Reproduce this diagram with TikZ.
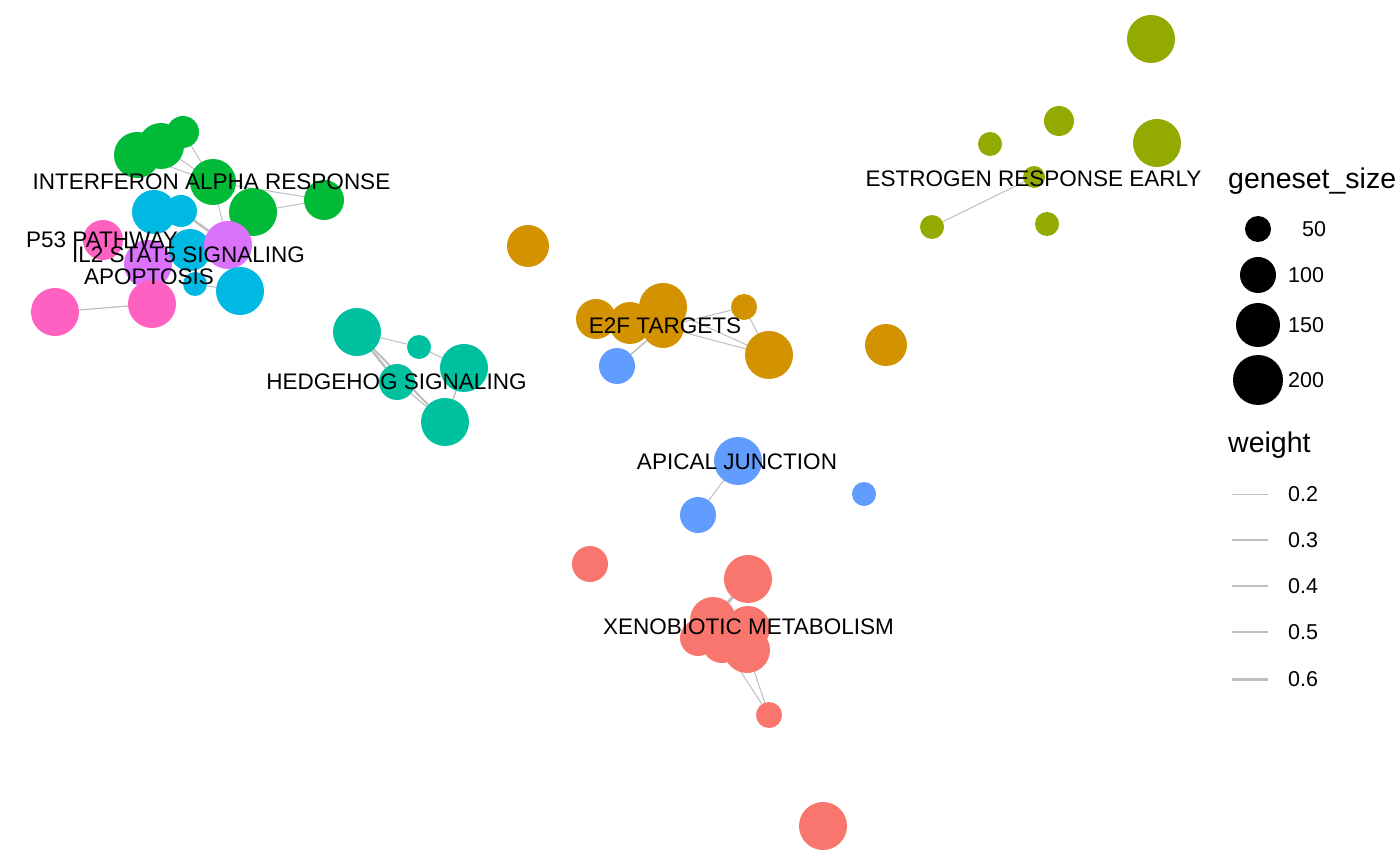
\documentclass[tikz,border=0pt]{standalone}
\usepackage{fontspec}
\setmainfont{Liberation Sans}
\pgfdeclarelayer{edges}
\pgfsetlayers{edges,main}
\definecolor{cred}{HTML}{F8766D}
\definecolor{corange}{HTML}{D39200}
\definecolor{colive}{HTML}{93AA00}
\definecolor{cgreen}{HTML}{00BA38}
\definecolor{cteal}{HTML}{00C19F}
\definecolor{ccyan}{HTML}{00B9E3}
\definecolor{cblue}{HTML}{619CFF}
\definecolor{cpurple}{HTML}{DB72FB}
\definecolor{cpink}{HTML}{FF61C3}
\definecolor{cedge}{HTML}{BEBEBE}
\tikzset{
  nd/.style={circle,inner sep=0pt,outer sep=0pt,minimum size=#1*2pt},
  edge/.style={draw=cedge,line width=#1pt},
  edge/.default=1,
  lbl/.style={anchor=base,inner sep=0pt,font=\fontsize{22.5}{27}\selectfont},
  ltitle/.style={anchor=base west,inner sep=0pt,font=\fontsize{28.5}{33}\selectfont},
  ltext/.style={anchor=base west,inner sep=0pt,font=\fontsize{21.5}{25}\selectfont},
}
\begin{document}
\begin{tikzpicture}[x=1pt,y=-1pt]
\useasboundingbox (0,0) rectangle (1400,866);
% green
\node[nd=23,fill=cgreen] (g1) at (137,155) {};
\node[nd=23,fill=cgreen] (g2) at (161,146) {};
\node[nd=16,fill=cgreen] (g3) at (183,132) {};
\node[nd=23,fill=cgreen] (g4) at (213,182) {};
\node[nd=24,fill=cgreen] (g5) at (253,212) {};
\node[nd=20,fill=cgreen] (g6) at (324,200) {};
% pink / purple / cyan
\node[nd=20,fill=cpink] (p1) at (103,240) {};
\node[nd=24,fill=cpurple] (u2) at (148,264) {};
\node[nd=22,fill=ccyan] (c1) at (154,212) {};
\node[nd=16,fill=ccyan] (c2) at (181,211) {};
\node[nd=21,fill=ccyan] (c3) at (190,250) {};
\node[nd=24,fill=cpurple] (u1) at (228,245) {};
\node[nd=12,fill=ccyan] (c4) at (195,284) {};
\node[nd=24,fill=ccyan] (c5) at (240,291) {};
\node[nd=24,fill=cpink] (p2) at (55,312) {};
\node[nd=24,fill=cpink] (p3) at (152,304) {};
% teal
\node[nd=24,fill=cteal] (t1) at (357,332) {};
\node[nd=12,fill=cteal] (t2) at (419,347) {};
\node[nd=24,fill=cteal] (t3) at (464,368) {};
\node[nd=18,fill=cteal] (t4) at (397,382) {};
\node[nd=24,fill=cteal] (t5) at (445,422) {};
% orange
\node[nd=21,fill=corange] (o1) at (528,246) {};
\node[nd=20,fill=corange] (o2) at (596,319) {};
\node[nd=21,fill=corange] (o3) at (630,323) {};
\node[nd=24,fill=corange] (o4) at (663,307) {};
\node[nd=21,fill=corange] (o5) at (663,327) {};
\node[nd=13,fill=corange] (o6) at (744,307) {};
\node[nd=24,fill=corange] (o7) at (769,355) {};
\node[nd=21,fill=corange] (o8) at (886,345) {};
% blue
\node[nd=18,fill=cblue] (b1) at (617,366) {};
\node[nd=24,fill=cblue] (b2) at (738,461) {};
\node[nd=18,fill=cblue] (b3) at (698,515) {};
\node[nd=12,fill=cblue] (b4) at (864,494) {};
% red
\node[nd=18,fill=cred] (r1) at (590,564) {};
\node[nd=24,fill=cred] (r2) at (748,579) {};
\node[nd=23,fill=cred] (r3) at (713,620) {};
\node[nd=22,fill=cred] (r4) at (748,628) {};
\node[nd=18,fill=cred] (r5) at (698,638) {};
\node[nd=20,fill=cred] (r6) at (722,643) {};
\node[nd=23,fill=cred] (r7) at (747,650) {};
\node[nd=13,fill=cred] (r8) at (769,715) {};
\node[nd=24,fill=cred] (r9) at (823,826) {};
% olive
\node[nd=24,fill=colive] (e1) at (1151,39) {};
\node[nd=15,fill=colive] (e2) at (1059,121) {};
\node[nd=12,fill=colive] (e3) at (990,144) {};
\node[nd=24,fill=colive] (e4) at (1157,143) {};
\node[nd=11,fill=colive] (e5) at (1034,177) {};
\node[nd=12,fill=colive] (e6) at (932,227) {};
\node[nd=12,fill=colive] (e7) at (1047,224) {};
% edges
\begin{pgfonlayer}{edges}
\draw[edge] (g3) -- (g4);
\draw[edge] (g1) -- (g4);
\draw[edge] (g2) -- (g4);
\draw[edge] (g4) -- (g6);
\draw[edge] (g5) -- (g6);
\draw[edge] (g4) -- (u1);
\draw[edge=2.5] (c2) -- (u1);
\draw[edge] (c4) -- (c5);
\draw[edge=1.2] (p2) -- (p3);
\draw[edge] (t1) -- (t2);
\draw[edge] (t2) -- (t3);
\draw[edge=2.5] (t1) -- (t4);
\draw[edge=2] (t1) -- (t5);
\draw[edge=1.2] (t4) -- (t5);
\draw[edge=1.5] (t3) -- (t5);
\draw[edge=1.5] (b1) -- (o5);
\draw[edge] (o5) -- (o6);
\draw[edge] (o5) -- (o7);
\draw[edge] (o4) -- (o7);
\draw[edge] (o6) -- (o7);
\draw[edge] (b2) -- (b3);
\draw[edge=3] (r2) -- (r3);
\draw[edge] (r6) -- (r8);
\draw[edge] (r7) -- (r8);
\draw[edge] (e6) -- (e5);
\end{pgfonlayer}
% labels
\node[lbl] (l1) at (211.5,190) {INTERFERON ALPHA RESPONSE};
\node[lbl] (l2) at (102,248) {P53 PATHWAY};
\node[lbl] (l3) at (188.5,263) {IL2 STAT5 SIGNALING};
\node[lbl] (l4) at (149,285) {APOPTOSIS};
\node[lbl] (l5) at (396.5,390) {HEDGEHOG SIGNALING};
\node[lbl] (l6) at (665,334) {E2F TARGETS};
\node[lbl] (l7) at (1033.5,187) {ESTROGEN RESPONSE EARLY};
\node[lbl] (l8) at (737,469) {APICAL JUNCTION};
\node[lbl] (l9) at (748.5,634) {XENOBIOTIC METABOLISM};
% legend: size
\node[ltitle] (st) at (1228,189) {geneset\_size};
\node[nd=13,fill=black] (s1) at (1258,229) {};
\node[nd=18,fill=black] (s2) at (1258,275) {};
\node[nd=22,fill=black] (s3) at (1258,325) {};
\node[nd=25,fill=black] (s4) at (1258,380) {};
\node[ltext] (s1t) at (1302,236.5) {50};
\node[ltext] (s2t) at (1288,283) {100};
\node[ltext] (s3t) at (1288,333) {150};
\node[ltext] (s4t) at (1288,388) {200};
% legend: weight
\node[ltitle] (wt) at (1228,452) {weight};
\foreach \i/\y/\w/\v in {1/494/0.6/0.2,2/540/1.1/0.3,3/586/1.7/0.4,4/632/2.3/0.5,5/679/3/0.6}{
  \coordinate (wa\i) at (1232,\y);
  \coordinate (wb\i) at (1268,\y);
  \draw[edge=\w] (wa\i) -- (wb\i);
  \node[ltext] (wl\i) at (1288,\y+7.5) {\v};
}
\end{tikzpicture}
\end{document}
